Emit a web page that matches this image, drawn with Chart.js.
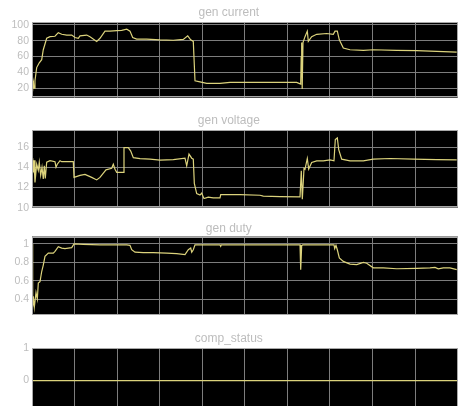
<!DOCTYPE html>
<html>
<head>
<meta charset="utf-8">
<script src="https://cdn.jsdelivr.net/npm/chart.js@4.4.1/dist/chart.umd.min.js"></script>
<style>
html,body{margin:0;padding:0;background:#fff;overflow:hidden;width:474px;height:406px;}
.panel{position:absolute;left:0;width:474px;}
</style>
</head>
<body>
<div class="panel" id="p1" style="top:0px;height:107px"><canvas id="c1"></canvas></div>
<div class="panel" id="p2" style="top:108px;height:109px"><canvas id="c2"></canvas></div>
<div class="panel" id="p3" style="top:216px;height:108px"><canvas id="c3"></canvas></div>
<div class="panel" id="p4" style="top:326px;height:96px"><canvas id="c4"></canvas></div>
<script>
// ---- data ----
const titles = ["gen current", "gen voltage", "gen duty", "comp_status"];

const xTicks = [0,1,2,3,4,5,6,7,8,9,10];

const currentTime = [0,0.007,0.014,0.023,0.035,0.047,0.07,0.11,0.171,0.228,0.265,0.345,0.423,0.54,0.618,0.698,0.815,0.933,1.01,1.088,1.128,1.285,1.362,1.52,1.597,1.715,1.832,1.99,2.107,2.225,2.302,2.365,2.46,2.694,3.007,3.319,3.554,3.658,3.728,3.789,3.829,3.946,4.104,4.416,4.651,4.886,5.433,6.218,6.312,6.324,6.335,6.347,6.366,6.413,6.467,6.491,6.57,6.688,6.923,7.078,7.118,7.172,7.219,7.313,7.47,7.783,8.017,8.567,9.037,9.507,9.977];
const currentValues = [22,16,29,18,27,20,29.4,46,52,56,68.5,83,85,85.5,90,88,87,87,84,83,86,87,85,79,83,92,92,92.5,93,94.5,92,84,82,82,81,80.5,81.5,86,81,79,29.4,28,26,26,27.4,27.4,27.4,27.4,25.3,60,77.5,19,77.5,85,92,79,85,88,89,88,92,92,81,70.6,68.5,67.7,68.5,67.7,67.3,66.4,65.6];

const voltageTime = [0,0.012,0.023,0.035,0.047,0.07,0.11,0.148,0.171,0.204,0.235,0.265,0.289,0.312,0.345,0.423,0.54,0.564,0.594,0.658,0.698,0.815,0.97,0.987,1.128,1.245,1.402,1.52,1.597,1.738,1.872,1.91,1.95,1.99,2.145,2.161,2.262,2.319,2.38,2.537,2.772,3.007,3.319,3.594,3.634,3.688,3.752,3.789,3.813,3.869,3.946,3.986,4.04,4.141,4.259,4.416,4.433,4.729,4.886,5.356,5.433,5.826,6.296,6.326,6.35,6.39,6.413,6.467,6.5,6.57,6.688,6.843,7.0,7.094,7.125,7.172,7.205,7.275,7.47,7.783,8.017,8.41,8.957,9.507,9.977];
const voltageValues = [14.8,13.4,14.9,13.5,14.7,12.5,14.3,13.7,14.5,13.2,14.0,12.85,14.15,12.9,14.5,14.65,14.55,14.0,14.3,14.65,14.55,14.55,14.55,13.0,13.2,13.3,13.0,12.75,13.0,13.75,13.9,14.3,13.8,13.5,13.5,15.95,15.95,15.6,14.95,14.85,14.8,14.7,14.75,14.9,14.15,15.3,14.9,14.8,12.4,11.4,11.25,11.45,10.9,11.05,10.98,10.98,11.3,11.3,11.3,11.23,11.15,11.1,11.07,13.66,10.84,13.9,13.8,14.87,13.83,14.48,14.64,14.64,14.74,14.64,16.75,16.9,15.75,14.8,14.64,14.64,14.8,14.87,14.8,14.75,14.74];

const dutyTime = [0,0.016,0.031,0.054,0.094,0.125,0.148,0.188,0.228,0.265,0.305,0.383,0.5,0.54,0.618,0.698,0.775,0.853,0.933,0.987,1.205,1.597,2.225,2.302,2.342,2.42,2.615,2.849,3.164,3.399,3.594,3.672,3.728,3.752,3.789,3.829,3.946,4.416,4.433,4.447,4.651,5.433,6.296,6.312,6.335,6.359,7.0,7.094,7.111,7.141,7.172,7.219,7.313,7.47,7.627,7.783,7.863,8.017,8.252,8.567,9.037,9.349,9.467,9.544,9.662,9.819,9.977];
const dutyValues = [1.0,0.32,0.43,0.31,0.47,0.40,0.575,0.59,0.70,0.77,0.865,0.90,0.90,0.92,0.97,0.955,0.95,0.955,0.96,1.0,0.995,0.99,0.99,0.985,0.937,0.91,0.905,0.905,0.90,0.895,0.883,0.937,0.955,0.91,0.937,0.99,0.99,0.99,0.975,0.99,0.99,0.99,0.99,0.72,0.98,0.99,0.99,0.99,0.95,0.985,0.937,0.847,0.81,0.78,0.775,0.80,0.79,0.74,0.74,0.73,0.735,0.74,0.745,0.73,0.74,0.74,0.72];

const statusTime = [0,10];
const statusValues = [0,0];

const currentTicks = [20,40,60,80,100];
const voltageTicks = [10,12,14,16];
const dutyTicks = [0.4,0.6,0.8,1];
const statusTicks = [-1,0,1];

// ---- styling / layout ----
const LINE = '#dcd37c';
const GRID = '#7d7d7d';
const BORDER = '#a8a8a8';
const TEXT = '#bdbdbd';
const FONT = "'Liberation Sans', Arial, sans-serif";

const plotBg = {
  id:'plotBg',
  beforeDraw(chart){
    const a = chart.chartArea, c = chart.ctx;
    c.save(); c.fillStyle = '#000'; c.fillRect(a.left, a.top, a.right-a.left, a.bottom-a.top); c.restore();
  },
  afterDraw(chart){
    const a = chart.chartArea, c = chart.ctx;
    c.save(); c.strokeStyle = BORDER; c.lineWidth = 1;
    c.strokeRect(Math.round(a.left)+0.5, Math.round(a.top)+0.5, Math.round(a.right-a.left)-1, Math.round(a.bottom-a.top)-1);
    c.restore();
  }
};

function makeChart(id, title, xs, ys, ticks, yMin, yMax, titlePadBottom, height){
  const canvas = document.getElementById(id);
  canvas.style.width = '474px';
  canvas.style.height = height + 'px';
  const pts = xs.map((x,i)=>({x:x, y:ys[i]}));
  return new Chart(canvas, {
    type:'line',
    data:{datasets:[{data:pts, borderColor:LINE, borderWidth:1.2, pointRadius:0, tension:0, fill:false}]},
    options:{
      responsive:false, maintainAspectRatio:false, animation:false, devicePixelRatio:1,
      layout:{padding:{left:0, right:16.3, top:0, bottom:7}},
      plugins:{
        legend:{display:false}, tooltip:{enabled:false},
        title:{display:true, text:title, color:TEXT, font:{family:FONT, size:12, weight:'normal'}, padding:{top:5, bottom:titlePadBottom}}
      },
      scales:{
        x:{type:'linear', min:0, max:10,
           afterBuildTicks(s){ s.ticks = xTicks.map(v=>({value:v})); },
           ticks:{display:false}, grid:{color:GRID, lineWidth:1, drawTicks:false}, border:{display:false},
           afterFit(s){ s.height = 0; }},
        y:{type:'linear', min:yMin, max:yMax,
           afterBuildTicks(s){ s.ticks = ticks.map(v=>({value:v})); },
           ticks:{color:TEXT, font:{family:FONT, size:10.5}, padding:3, callback:(v)=>String(v)},
           grid:{color:GRID, lineWidth:1, drawTicks:false}, border:{display:false},
           afterFit(s){ s.width = 32; }}
      }
    },
    plugins:[plotBg]
  });
}

[['c1',107],['c2',109],['c3',108],['c4',96]].forEach(([id,h])=>{
  const c=document.getElementById(id); c.width=474; c.height=h;
});

makeChart('c1', titles[0], currentTime, currentValues, currentTicks, 8, 103, 3, 107);
makeChart('c2', titles[1], voltageTime, voltageValues, voltageTicks, 10, 17.65, 3, 109);
makeChart('c3', titles[2], dutyTime, dutyValues, dutyTicks, 0.23, 1.08, 1.2, 108);
makeChart('c4', titles[3], statusTime, statusValues, statusTicks, -1, 1, 3, 96);
</script>
</body>
</html>
